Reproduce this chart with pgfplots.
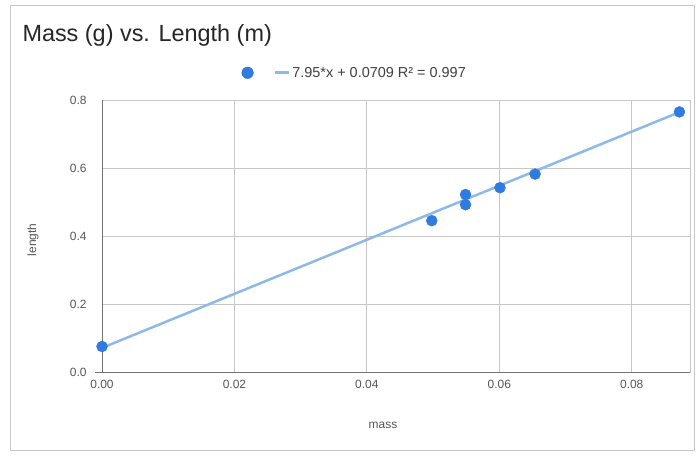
\documentclass[border=0pt]{standalone}
\usepackage{pgfplots}
\pgfplotsset{compat=1.18}
\usepackage{fontspec}
\setmainfont{Liberation Sans}
\definecolor{dotblue}{HTML}{2F7BE0}
\definecolor{trend}{HTML}{8DB9E8}
\definecolor{ticktxt}{HTML}{555555}
\begin{document}
\begin{tikzpicture}[x=1bp,y=1bp]
\path[use as bounding box] (0,0) rectangle (700,457);
\draw[gray!45, line width=1bp] (10,6) rectangle (694,451);
\node[anchor=base west, font=\fontsize{23.5}{26}\selectfont, text=black!85] at (19,415) {Mass (g) vs. Length (m)};
\node[font=\fontsize{12}{14}\selectfont, text=ticktxt] at (383,32) {mass};
\node[rotate=90, font=\fontsize{12}{14}\selectfont, text=ticktxt] at (33,217) {length};
\begin{axis}[
  at={(102bp,85bp)}, anchor=origin,
  scale only axis, width=588bp, height=272bp,
  xmin=0, xmax=0.0888, ymin=0, ymax=0.8,
  xtick={0,0.02,0.04,0.06,0.08},
  ytick={0,0.2,0.4,0.6,0.8},
  grid=major, major grid style={black!22, line width=0.8bp},
  axis line style={black!22},
  major tick length=0pt,
  /pgf/number format/assume math mode=true,
  xticklabel style={/pgf/number format/.cd, fixed, fixed zerofill, precision=2},
  yticklabel style={/pgf/number format/.cd, fixed, fixed zerofill, precision=1},
  tick label style={font=\fontsize{12}{14}\selectfont, text=ticktxt},
  xticklabel shift=5bp, yticklabel shift=12bp,
  scaled x ticks=false,
  legend style={at={(0.232,1.1)}, anchor=west, draw=none, fill=none,
    font=\fontsize{14.5}{16}\selectfont, text=black!75},
  legend columns=2,
  clip=false,
]
\addplot[only marks, mark=*, mark size=5.5bp, color=dotblue,
  legend image code/.code={\fill[dotblue] (0.3cm,0cm) circle (5.8bp);}]
  coordinates {(0,0.075) (0.0498,0.445) (0.0549,0.492) (0.0549,0.522) (0.0601,0.542) (0.0654,0.582) (0.0872,0.765)};
\addlegendentry{}
\addplot[trend, line width=2.5bp, no marks,
  legend image code/.code={\path (0bp,0bp); \draw[trend, line width=3bp] (16bp,0bp) -- (30bp,0bp);}]
  coordinates {(0,0.0709) (0.0872,0.7642)};
\addlegendentry{7.95*x + 0.0709 R² = 0.997}
\draw[black!55, line width=0.9bp] (axis cs:0,0) -- (axis cs:0,0.8);
\draw[black!55, line width=0.9bp] (axis cs:-0.001,0) -- (axis cs:0.0888,0);
\end{axis}
\end{tikzpicture}
\end{document}
